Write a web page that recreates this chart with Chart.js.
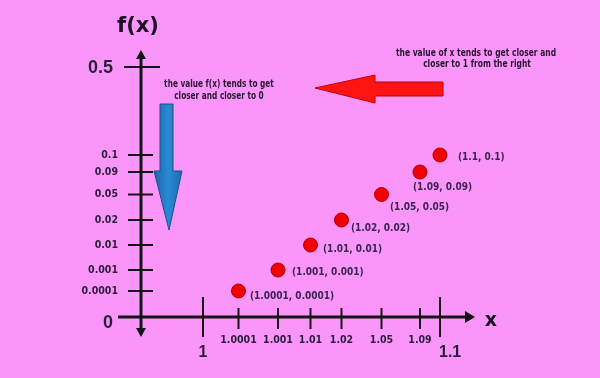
<!DOCTYPE html>
<html>
<head>
<meta charset="utf-8">
<script src="https://cdn.jsdelivr.net/npm/chart.js@4.4.1/dist/chart.umd.min.js"></script>
<style>
  html, body { margin: 0; padding: 0; background: #fa96fa; }
</style>
</head>
<body>
<canvas id="chart" width="600" height="378"></canvas>
<script>
// points
const xValues = [1.0001, 1.001, 1.01, 1.02, 1.05, 1.09, 1.1];
const yValues = [0.0001, 0.001, 0.01, 0.02, 0.05, 0.09, 0.1];

// axis ticks and their labels
const xTicks = [1, 1.0001, 1.001, 1.01, 1.02, 1.05, 1.09, 1.1];
const xTickLabels = ['1', '1.0001', '1.001', '1.01', '1.02', '1.05', '1.09', '1.1'];
const yTicks = [0, 0.0001, 0.001, 0.01, 0.02, 0.05, 0.09, 0.1, 0.5];
const yTickLabels = ['0', '0.0001', '0.001', '0.01', '0.02', '0.05', '0.09', '0.1', '0.5'];

// the axes are not to scale: each tick sits at a fixed fraction of the axis
const axisStops = {
  x: { values: [0.99, ...xTicks, 1.12], at: [0, 0.1856, 0.2919, 0.4102, 0.5075, 0.6003, 0.7201, 0.8353, 0.8952, 1] },
  y: { values: [...yTicks, 0.55], at: [0, 0.0974, 0.176, 0.2697, 0.3633, 0.4588, 0.543, 0.6067, 0.9363, 1] }
};

// where each point label goes, relative to its point
const labelOffsets = [[11.5, 5], [14, 2], [12.5, 4], [9.5, 8], [8.5, 12.5], [-7, 15], [18, 2]];

const bg = '#fa96fa';
const ink = '#141414';
const textInk = '#2b1d3a';
const smallFont = 'bold 10.5px "DejaVu Sans Condensed", "DejaVu Sans", sans-serif';
const bigFont = 'bold 18px "Liberation Sans", Arial, sans-serif';
const noteFont = 'bold 10px "DejaVu Sans Condensed", "DejaVu Sans", sans-serif';

class StopsScale extends Chart.LinearScale {
  toDecimal(v) {
    const s = axisStops[this.id];
    if (v <= s.values[0]) return s.at[0];
    for (let i = 1; i < s.values.length; i++) {
      if (v <= s.values[i]) {
        const t = (v - s.values[i - 1]) / (s.values[i] - s.values[i - 1]);
        return s.at[i - 1] + t * (s.at[i] - s.at[i - 1]);
      }
    }
    return 1;
  }
  getPixelForValue(v) {
    return this.getPixelForDecimal(this.toDecimal(v));
  }
}
StopsScale.id = 'stops';
StopsScale.defaults = {};
Chart.register(StopsScale);

function seg(c, x1, y1, x2, y2) {
  c.beginPath(); c.moveTo(x1, y1); c.lineTo(x2, y2); c.stroke();
}
function tri(c, pts) {
  c.beginPath(); c.moveTo(pts[0], pts[1]);
  for (let i = 2; i < pts.length; i += 2) c.lineTo(pts[i], pts[i + 1]);
  c.closePath(); c.fill();
}
// narrow text, squeezed sideways
function note(c, text, cx, cy, squeeze) {
  c.save();
  c.translate(cx, cy);
  c.scale(squeeze, 1);
  c.fillText(text, 0, 0);
  c.restore();
}

const drawing = {
  id: 'drawing',
  beforeDraw(chart) {
    const c = chart.ctx;
    c.save();
    c.fillStyle = bg;
    c.fillRect(0, 0, chart.width, chart.height);
    c.restore();
  },
  beforeDatasetsDraw(chart) {
    const { ctx: c, chartArea: a, scales: { x, y } } = chart;
    const x0 = a.left, y0 = y.getPixelForValue(0);
    c.save();
    c.strokeStyle = ink; c.fillStyle = ink;

    // axes with arrow heads
    c.lineWidth = 3;
    seg(c, x0 - 23, y0, a.right - 6, y0);
    tri(c, [a.right, y0, a.right - 10, y0 - 6, a.right - 10, y0 + 6]);
    seg(c, x0, a.top + 6, x0, y0 + 14);
    tri(c, [x0, a.top, x0 - 5, a.top + 9, x0 + 5, a.top + 9]);
    tri(c, [x0, y0 + 20, x0 - 5, y0 + 11, x0 + 5, y0 + 11]);

    // tick marks crossing the axes
    c.lineWidth = 2;
    xTicks.forEach((v, i) => {
      const px = x.getPixelForValue(v);
      const big = i === 0 || i === xTicks.length - 1;
      if (big) seg(c, px, y0 - 20, px, y0 + 20);
      else seg(c, px, y0 - 9, px, y0 + 12);
    });
    yTicks.forEach((v, i) => {
      if (v === 0) return;
      const py = y.getPixelForValue(v);
      if (i === yTicks.length - 1) seg(c, x0 - 17, py, x0 + 19, py);
      else seg(c, x0 - 13, py, x0 + 12, py);
    });

    // tick labels
    c.fillStyle = textInk;
    c.textBaseline = 'middle';
    xTicks.forEach((v, i) => {
      const px = x.getPixelForValue(v);
      const last = i === xTicks.length - 1;
      if (i === 0 || last) {
        c.font = bigFont.replace('18px', '16px');
        c.textAlign = last ? 'left' : 'center';
        c.fillText(xTickLabels[i], last ? px - 1 : px, y0 + 36);
      } else {
        c.font = smallFont;
        c.textAlign = 'center';
        c.fillText(xTickLabels[i], px, y0 + 23);
      }
    });
    yTicks.forEach((v, i) => {
      const py = y.getPixelForValue(v);
      c.textAlign = 'right';
      if (v === 0 || i === yTicks.length - 1) {
        c.font = bigFont;
        c.fillText(yTickLabels[i], x0 - 28, py + (v === 0 ? 6 : 1));
      } else {
        c.font = smallFont;
        c.fillText(yTickLabels[i], x0 - 23, py);
      }
    });

    // axis names
    c.fillStyle = '#1a1222';
    c.font = 'bold 21px "DejaVu Sans", sans-serif';
    c.textAlign = 'center';
    c.fillText('f(x)', x0 - 3, 27);
    c.font = 'bold 19px "DejaVu Sans", sans-serif';
    c.fillText('x', a.right + 16, y0 + 4);

    // blue arrow: f(x) goes down to 0
    const blue = c.createLinearGradient(154, 0, 182, 0);
    blue.addColorStop(0, '#1b64a8');
    blue.addColorStop(0.5, '#2a8ad4');
    blue.addColorStop(1, '#1b6bb3');
    c.fillStyle = blue; c.strokeStyle = '#17548a'; c.lineWidth = 1;
    c.beginPath();
    c.moveTo(160, 104); c.lineTo(173, 104); c.lineTo(173, 171); c.lineTo(182, 171);
    c.lineTo(169, 230); c.lineTo(154, 171); c.lineTo(160, 171); c.closePath();
    c.fill(); c.stroke();

    // red arrow: x comes in from the right
    c.fillStyle = '#ff1414'; c.strokeStyle = '#c40000';
    c.beginPath();
    c.moveTo(443, 82); c.lineTo(375, 82); c.lineTo(375, 75); c.lineTo(315, 88);
    c.lineTo(375, 103); c.lineTo(375, 96); c.lineTo(443, 96); c.closePath();
    c.fill(); c.stroke();

    // notes
    c.fillStyle = '#24162e';
    c.font = noteFont;
    c.textAlign = 'center';
    note(c, 'the value f(x) tends to get', 219, 84, 0.82);
    note(c, 'closer and closer to 0', 219, 96, 0.82);
    note(c, 'the value of x tends to get closer and', 476, 53, 0.84);
    note(c, 'closer to 1 from the right', 477, 64, 0.84);
    c.restore();
  },
  afterDatasetsDraw(chart) {
    const c = chart.ctx;
    const pts = chart.getDatasetMeta(0).data;
    c.save();
    c.fillStyle = '#3a2450';
    c.font = 'bold 10px "DejaVu Sans Condensed", "DejaVu Sans", sans-serif';
    c.textAlign = 'left';
    c.textBaseline = 'middle';
    pts.forEach((p, i) => {
      const [dx, dy] = labelOffsets[i];
      c.fillText('(' + xValues[i] + ', ' + yValues[i] + ')', p.x + dx, p.y + dy);
    });
    c.restore();
  }
};

new Chart(document.getElementById('chart'), {
  type: 'scatter',
  data: {
    datasets: [{
      data: xValues.map((v, i) => ({ x: v, y: yValues[i] })),
      pointRadius: 7,
      backgroundColor: '#f20000',
      borderColor: '#b00000',
      borderWidth: 1
    }]
  },
  options: {
    responsive: false,
    animation: false,
    events: [],
    clip: false,
    layout: { padding: { left: 141, right: 125, top: 50, bottom: 61 } },
    plugins: { legend: { display: false }, tooltip: { enabled: false } },
    scales: {
      x: { type: 'stops', display: false, min: 0.99, max: 1.12 },
      y: { type: 'stops', display: false, min: 0, max: 0.55 }
    }
  },
  plugins: [drawing]
});
</script>
</body>
</html>
